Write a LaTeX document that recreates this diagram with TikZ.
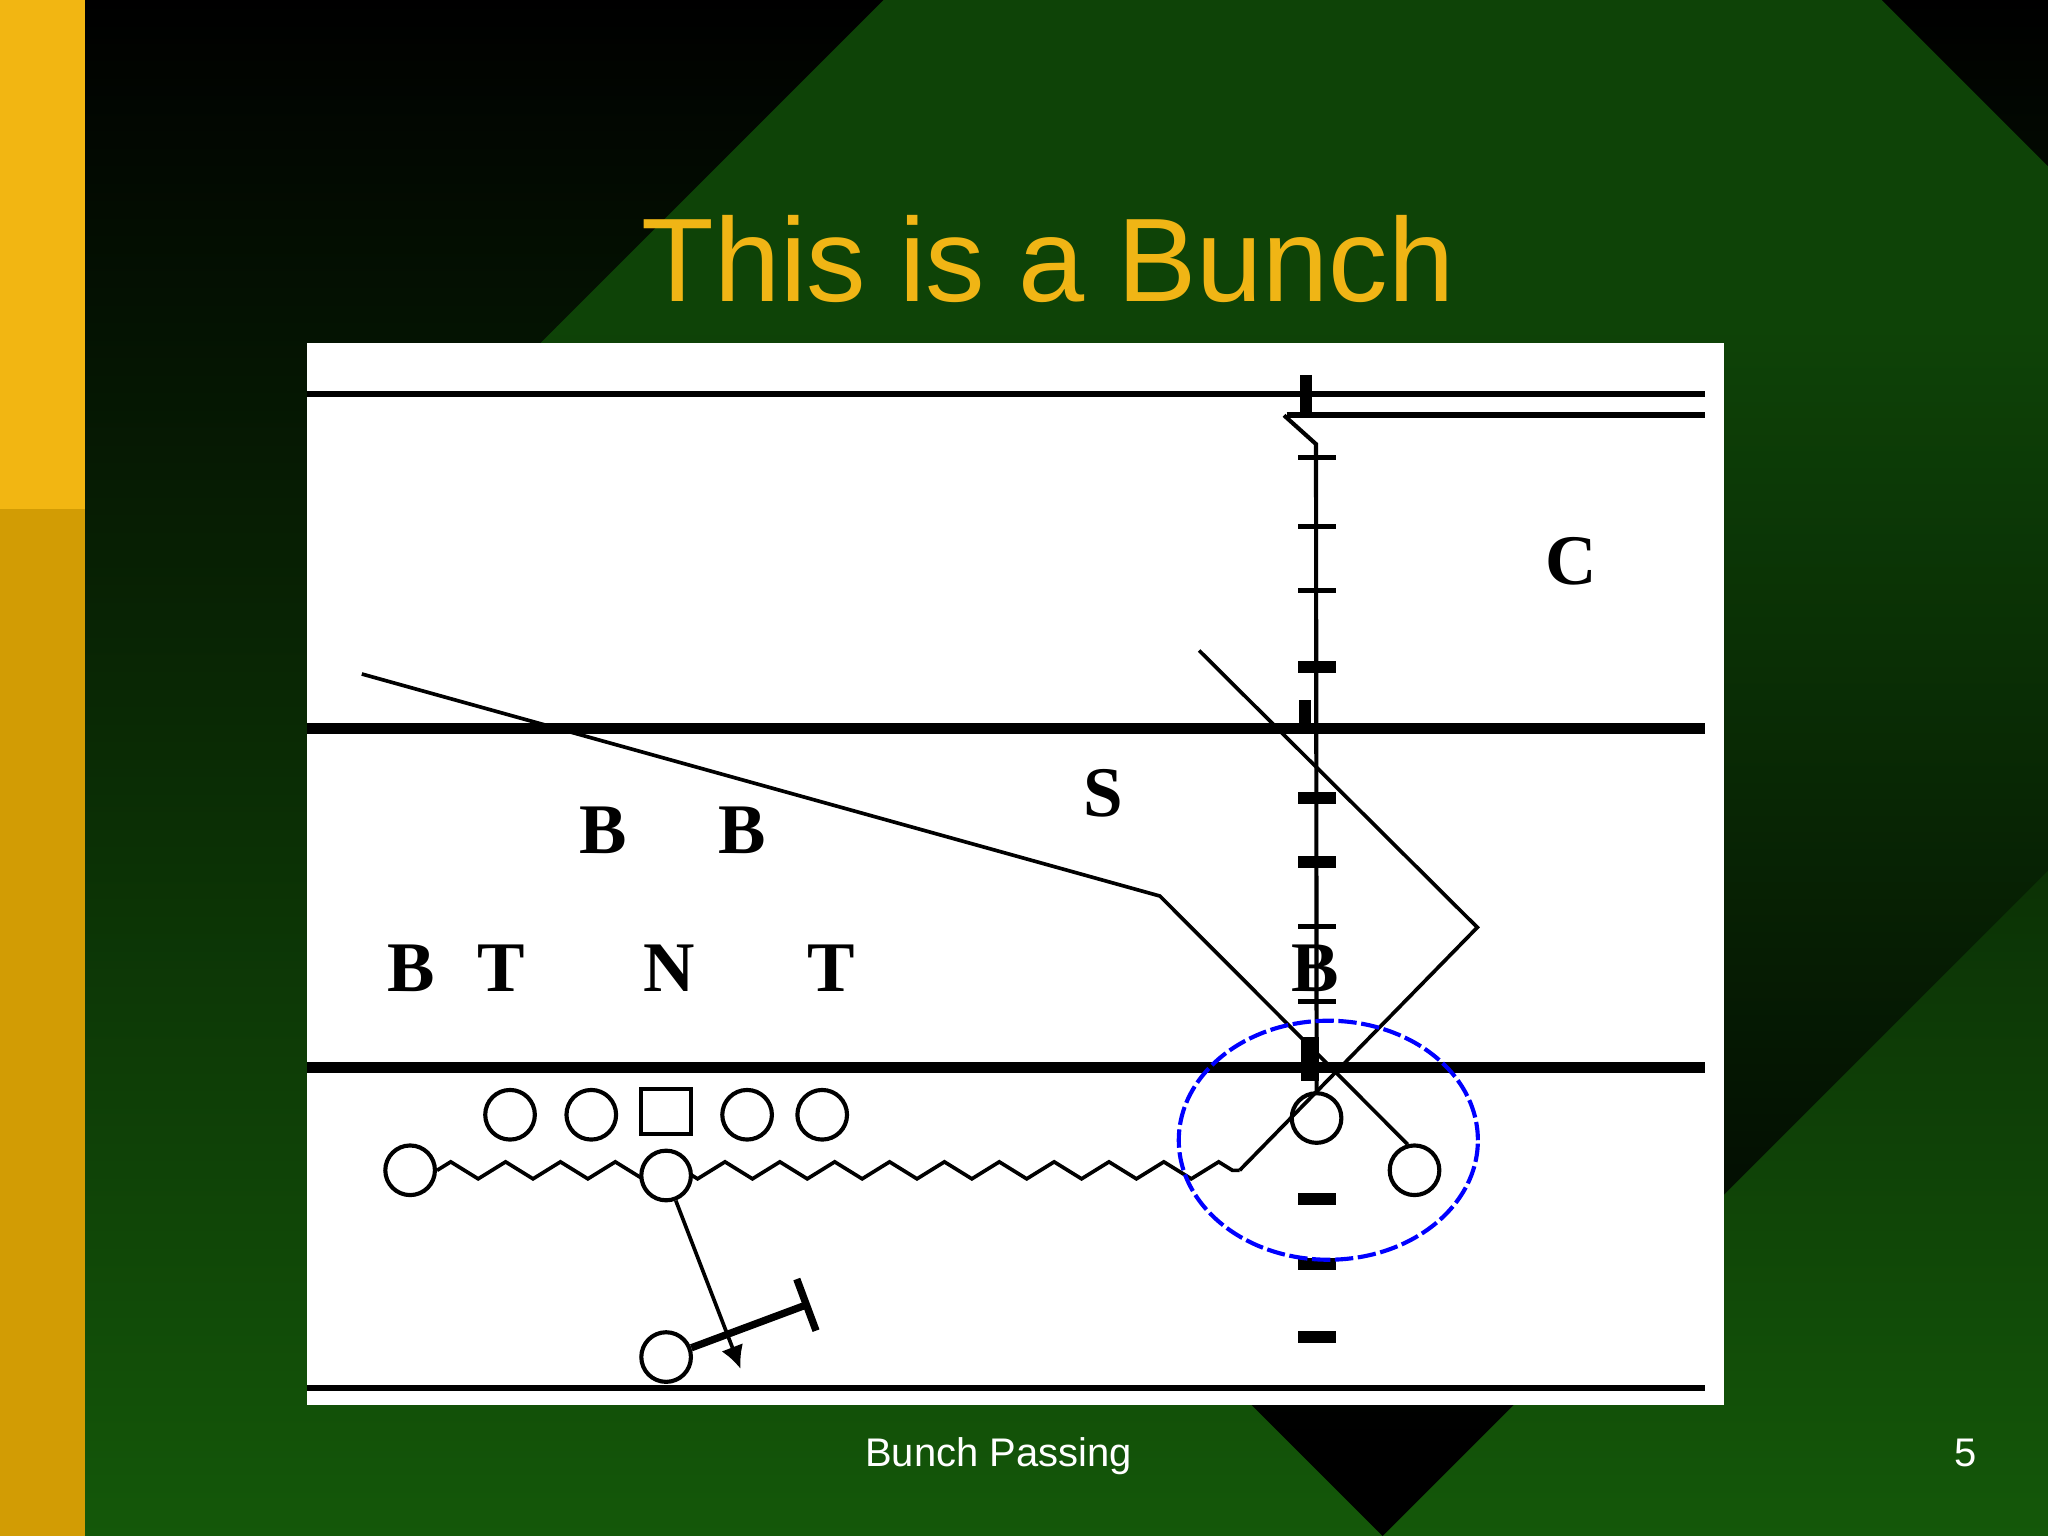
\documentclass[tikz,border=0pt]{standalone}
\usepackage{fontspec}
\setmainfont{Liberation Sans}
\newfontfamily\playfont{Liberation Serif}
\usetikzlibrary{decorations.pathmorphing,arrows.meta}
\definecolor{slidegold}{HTML}{F2B612}
\definecolor{bargold}{HTML}{D29C04}
\definecolor{titlegold}{HTML}{F0B515}
\definecolor{fieldgreen}{HTML}{0E4307}
\definecolor{basegreen}{HTML}{145809}

\begin{document}
\begin{tikzpicture}[scale=0.1,
        player/.style={draw=black, line width=0.9pt, fill=white, circle, minimum size=3.8mm},
        centerbox/.style={draw=black, line width=0.9pt, fill=white, rectangle, minimum width=3.8mm, minimum height=3.4mm},
        defender/.style={black, font=\playfont\bfseries\fontsize{15.5}{16}\selectfont},
        route/.style={black, line width=0.8pt},
        motion/.style={black, line width=0.8pt, decorate, decoration={zigzag, segment length=4.2mm, amplitude=0.65mm}},
        blockline/.style={black, line width=1.6pt, -{Bar[width=12pt]}},
        yardline/.style={black, line width=1.3pt},
        goalline/.style={black, line width=2.4pt},
        hashthin/.style={black, line width=1.1pt},
        hashthick/.style={black, line width=2.6pt}]
            \tikzstyle{every node}+=[inner sep=0pt]
            \useasboundingbox (0,0) rectangle (156.8,-117.6);
            \shade [top color=black, bottom color=basegreen] (0,0) rectangle (156.8,-117.6);
            \begin{scope}
                \clip (105.85,38.2) -- (183.75,-39.7) -- (105.85,-117.6) -- (27.95,-39.7) -- cycle;
                \fill [fieldgreen] (0,38.2) rectangle (183.75,-25);
                \shade [top color=fieldgreen, bottom color=black] (0,-25) rectangle (183.75,-110);
                \fill [black] (0,-110) rectangle (183.75,-117.6);
            \end{scope}
            \fill [slidegold] (0,0) rectangle (6.5,-39);
            \fill [bargold] (0,-39) rectangle (6.5,-117.6);
            \node [titlegold, font=\fontsize{25.9}{31}\selectfont, anchor=base] (title) at (80.25,-23.1) {This is a Bunch};
            \node [white, font=\fontsize{8.7}{10}\selectfont, anchor=base] (footer) at (76.45,-112.3) {Bunch Passing};
            \node [white, font=\fontsize{8.7}{10}\selectfont, anchor=base] (page) at (150.5,-112.3) {5};
            \fill [white] (23.5,-26.3) rectangle (132,-107.6);
            \draw [yardline] (23.5,-30.2) -- (130.5,-30.2);
            \draw [yardline] (98.5,-31.8) -- (130.5,-31.8);
            \draw [goalline] (23.5,-55.8) -- (130.5,-55.8);
            \draw [goalline] (23.5,-81.7) -- (130.5,-81.7);
            \draw [yardline] (23.5,-106.3) -- (130.5,-106.3);
            \foreach \y in {35.0,40.3,45.2,70.9,76.7}
                \draw [hashthin] (99.4,-\y) -- (102.3,-\y);
            \foreach \y in {51.1,61.1,66.0,91.8,96.8,102.4}
                \draw [hashthick] (99.4,-\y) -- (102.3,-\y);
            \draw [black, line width=2.6pt] (100.0,-28.7) -- (100.0,-31.8);
            \draw [black, line width=2.6pt] (99.9,-53.6) -- (99.9,-56.2);
            \draw [black, line width=4pt] (100.3,-79.4) -- (100.3,-82.8);
            \node [defender] (cb) at (120.3,-43.0) {C};
            \node [defender] (fs) at (84.5,-60.7) {S};
            \node [defender] (wlb) at (46.2,-63.6) {B};
            \node [defender] (mlb) at (56.8,-63.6) {B};
            \node [defender] (olb) at (31.45,-74.1) {B};
            \node [defender] (dlt) at (38.4,-74.1) {T};
            \node [defender] (nose) at (51.2,-74.1) {N};
            \node [defender] (drt) at (63.65,-74.1) {T};
            \node [defender] (slb) at (100.7,-74.1) {B};
            \node [player] (wr) at (31.4,-89.6) {};
            \coordinate (mset) at (94.9,-89.6);
            \draw [motion] (wr) -- (mset);
            \node [player] (lt) at (39.05,-85.35) {};
            \node [player] (lg) at (45.27,-85.35) {};
            \node [centerbox] (ctr) at (51.0,-85.1) {};
            \node [player] (rg) at (57.2,-85.35) {};
            \node [player] (rt) at (62.95,-85.35) {};
            \node [player] (qb) at (51.0,-90.0) {};
            \node [player] (rb) at (51.0,-103.9) {};
            \node [player] (te) at (100.8,-85.6) {};
            \node [player] (wing) at (108.3,-89.6) {};
            \coordinate (mcut) at (113.1,-71.0);
            \coordinate (mend) at (91.8,-49.8);
            \draw [route] (mset) -- (mcut) -- (mend);
            \coordinate (wcut) at (88.8,-68.6);
            \coordinate (wend) at (27.7,-51.6);
            \draw [route] (wing.105) -- (wcut) -- (wend);
            \coordinate (tebend) at (100.75,-34.0);
            \coordinate (teend) at (98.3,-31.8);
            \draw [route, line width=0.9pt] (te) -- (tebend) -- (teend);
            \coordinate (drop) at (56.7,-104.8);
            \draw [route, -{Latex[length=5pt, width=5pt]}] (qb) -- (drop);
            \coordinate (blk) at (62.0,-99.8);
            \draw [blockline] (rb) -- (blk);
            \draw [blue, line width=0.9pt, dash pattern=on 4pt off 1pt] (101.7,-87.3) ellipse (11.45 and 9.15);
        \end{tikzpicture}
\end{document}
